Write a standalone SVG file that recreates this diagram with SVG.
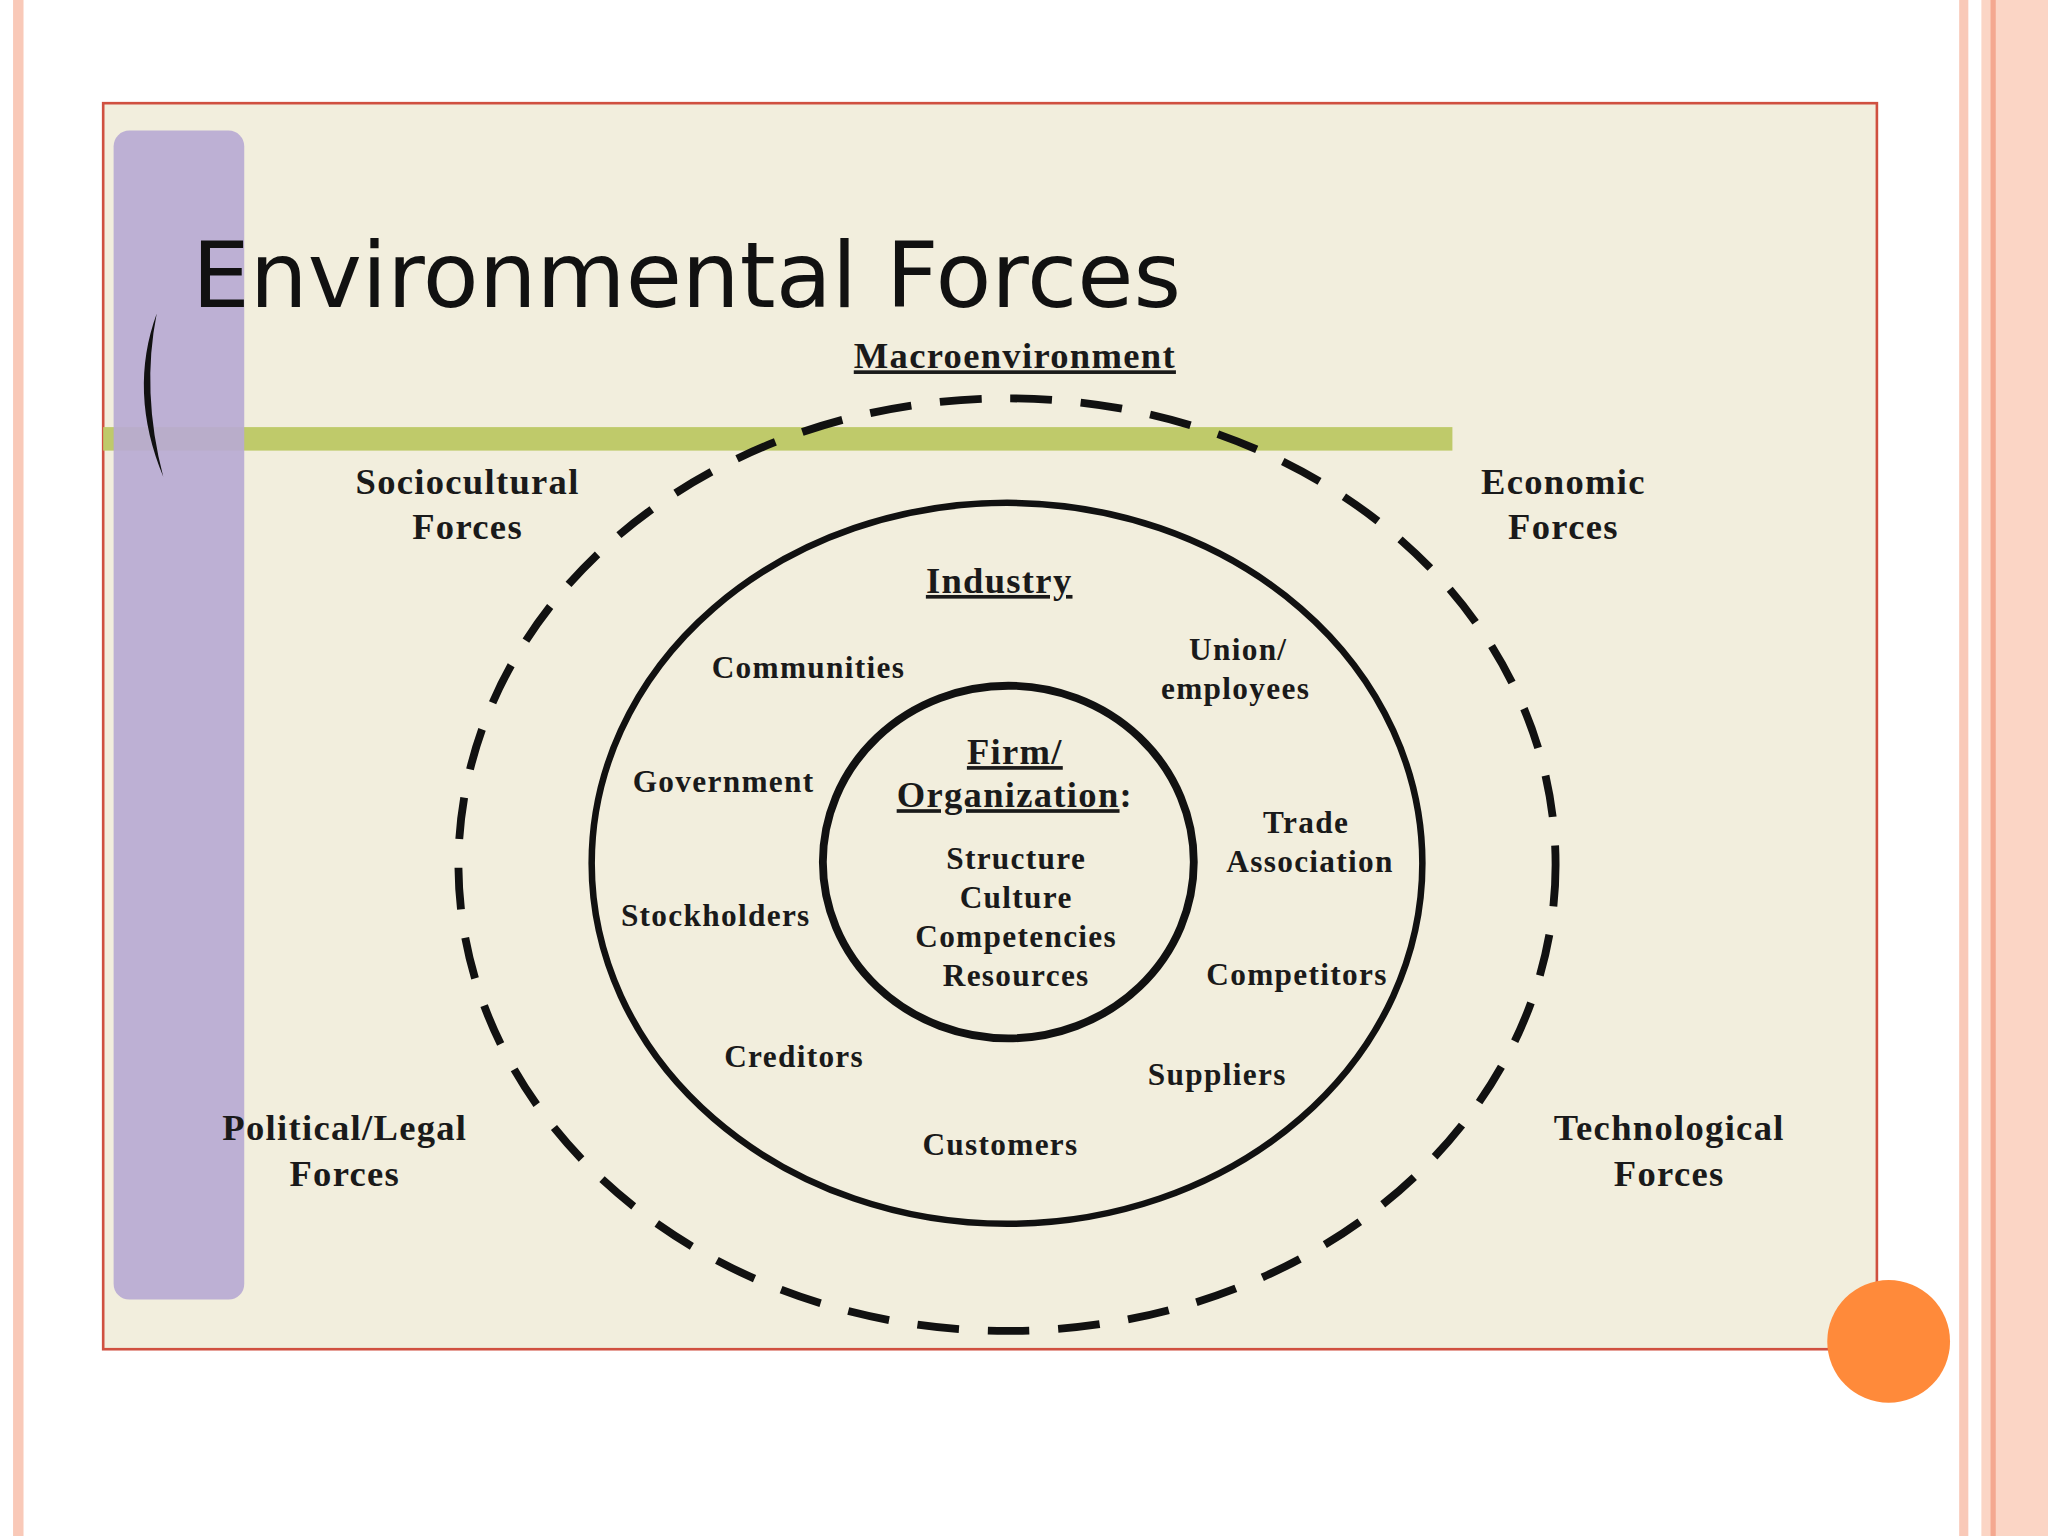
<svg xmlns="http://www.w3.org/2000/svg" width="2048" height="1536" viewBox="0 0 2048 1536">
<style>
.f{font-family:"Liberation Serif",serif;font-weight:bold;fill:#1a1a1a;text-anchor:middle;letter-spacing:1px}
.b{font-size:28px}
.s{font-size:24px}
.u{text-decoration:underline}
</style>
<rect width="2048" height="1536" fill="#fff"/>
<g transform="scale(1.30612)">
<g id="borders">
<rect x="10" y="0" width="8" height="1176" fill="#f9c9b8"/>
<rect x="1500" y="0" width="7" height="1176" fill="#f9c9b8"/>
<rect x="1517" y="0" width="51" height="1176" fill="#fbd5c5"/>
<rect x="1524" y="0" width="4" height="1176" fill="#f4a890"/>
</g>
<g id="frame">
<rect x="79" y="79" width="1358" height="954" fill="#f2eedd" stroke="#d05040" stroke-width="2"/>
<rect x="79" y="327" width="1033" height="18" fill="#bfca6a"/>
<rect x="87" y="100" width="100" height="895" rx="12" fill="#b8aad2" opacity="0.92"/>
<path d="M120 240 Q98 300 125 365 Q108 300 120 240Z" fill="#111"/>
<text x="147" y="235" style="font-family:'DejaVu Sans',sans-serif;font-size:70px;fill:#111">Environmental Forces</text>
</g>
<g id="connectors" fill="none" stroke="#111">
<ellipse cx="771" cy="662" rx="420" ry="357" stroke-width="6" stroke-dasharray="32,22"/>
<ellipse cx="771" cy="661" rx="318" ry="276" stroke-width="5"/>
<ellipse cx="772" cy="660" rx="142" ry="135" stroke-width="6"/>
</g>
<g id="macro"><text class="f b u" x="777" y="282">Macroenvironment</text></g>
<g id="socio"><text class="f b" x="358" y="378">Sociocultural</text><text class="f b" x="358" y="413">Forces</text></g>
<g id="econ"><text class="f b" x="1197" y="378">Economic</text><text class="f b" x="1197" y="413">Forces</text></g>
<g id="polit"><text class="f b" x="264" y="873">Political/Legal</text><text class="f b" x="264" y="908">Forces</text></g>
<g id="tech"><text class="f b" x="1278" y="873">Technological</text><text class="f b" x="1278" y="908">Forces</text></g>
<g id="industry"><text class="f b u" x="765" y="454">Industry</text></g>
<g id="communities"><text class="f s" x="619" y="519">Communities</text></g>
<g id="union"><text class="f s" x="948" y="505">Union/</text><text class="f s" x="946" y="535">employees</text></g>
<g id="government"><text class="f s" x="554" y="606">Government</text></g>
<g id="firm"><text class="f b u" x="777" y="585">Firm/</text><text class="f b" x="777" y="618"><tspan class="u">Organization</tspan>:</text>
<text class="f s" x="778" y="665">Structure</text><text class="f s" x="778" y="695">Culture</text><text class="f s" x="778" y="725">Competencies</text><text class="f s" x="778" y="755">Resources</text></g>
<g id="trade"><text class="f s" x="1000" y="638">Trade</text><text class="f s" x="1003" y="668">Association</text></g>
<g id="stockholders"><text class="f s" x="548" y="709">Stockholders</text></g>
<g id="competitors"><text class="f s" x="993" y="754">Competitors</text></g>
<g id="creditors"><text class="f s" x="608" y="817">Creditors</text></g>
<g id="suppliers"><text class="f s" x="932" y="831">Suppliers</text></g>
<g id="customers"><text class="f s" x="766" y="884">Customers</text></g>
<circle cx="1446" cy="1027" r="47" fill="#ff8a3a"/>
</g>
</svg>
